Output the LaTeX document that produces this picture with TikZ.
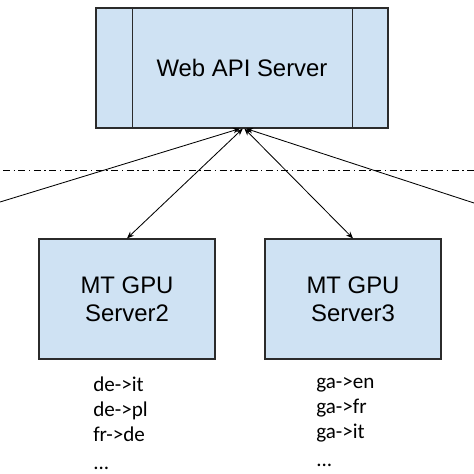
\documentclass[tikz,border=0pt]{standalone}
\usepackage{fontspec}
\setmainfont{Liberation Sans}
\newfontfamily\listfont{Carlito}
\usetikzlibrary{arrows.meta, positioning}
\definecolor{boxblue}{HTML}{CFE2F3}
\definecolor{boxline}{HTML}{2B2B2B}

\tikzset{
    server/.style={draw=boxline, fill=boxblue, line width=0.8pt, align=center, inner sep=0pt},
    link/.style={line width=0.6pt, -{Stealth[length=5pt, width=4pt]}},
    bilink/.style={line width=0.6pt, {Stealth[length=5pt, width=4pt]}-{Stealth[length=5pt, width=4pt]}},
    langlist/.style={font=\listfont\fontsize{15}{17.8}\selectfont, align=left, inner sep=0pt, anchor=north west}
}

\begin{document}
\begin{tikzpicture}[x=0.025cm, y=-0.025cm]
\useasboundingbox (0,0) rectangle (474,474);

\node[server, minimum width=7.3cm, minimum height=3cm, font=\fontsize{17}{20}\selectfont] (web) at (242,68) {Web API Server};
\draw[boxline, line width=0.8pt] ([xshift=0.925cm]web.north west) -- ([xshift=0.925cm]web.south west);
\draw[boxline, line width=0.8pt] ([xshift=-0.9cm]web.north east) -- ([xshift=-0.9cm]web.south east);

\node[server, minimum width=4.4cm, minimum height=3cm, font=\fontsize{17}{20}\selectfont] (gpu2) at (127,299) {MT GPU\\Server2};
\node[server, minimum width=4.4cm, minimum height=3cm, font=\fontsize{17}{20}\selectfont] (gpu3) at (353,299) {MT GPU\\Server3};

% boundary
\coordinate (cutL) at (3,170);
\coordinate (cutR) at (474,170);
\draw[line width=0.6pt, dash pattern=on 5pt off 2.5pt on 1pt off 2.5pt] (cutL) -- (cutR);

% connections
\coordinate (outL) at (0,202);
\coordinate (outR) at (474,203);
\draw[link] (outL) -- ([xshift=-0.05cm]web.south);
\draw[link] (outR) -- ([xshift=0.1cm]web.south);
\draw[bilink] ([xshift=0.02cm]web.south) -- (gpu2.north);
\draw[bilink] ([xshift=0.06cm]web.south) -- (gpu3.north);

% language pairs
\node[langlist] (pairs2) at (93,377) {de->it\\de->pl\\fr->de\\[2pt]...};
\node[langlist] (pairs3) at (316,377) {ga->en\\ga->fr\\ga->it\\[2pt]...};

\end{tikzpicture}
\end{document}
